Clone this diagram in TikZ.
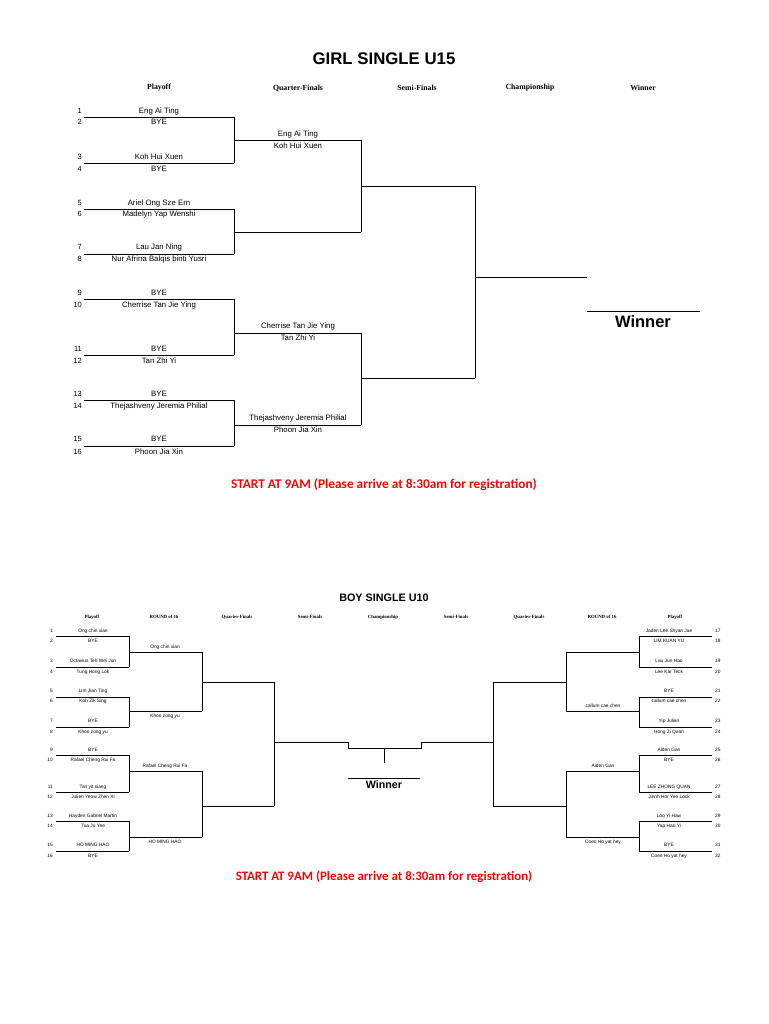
\documentclass[tikz,border=0pt]{standalone}
\usepackage{fontspec}
\setmainfont{Liberation Serif}
\setsansfont{Liberation Sans}
\newfontfamily\calib{Carlito}
\begin{document}
\begin{tikzpicture}[x=1pt,y=-1pt,
  nm/.style={font=\sffamily\fontsize{7.8}{9}\selectfont,inner sep=0pt},
  num/.style={font=\sffamily\fontsize{7.5}{9}\selectfont,inner sep=0pt,anchor=east},
  hd/.style={font=\bfseries\fontsize{7.8}{9}\selectfont,inner sep=0pt},
  snm/.style={font=\sffamily\fontsize{4.8}{6}\selectfont,inner sep=0pt},
  snum/.style={font=\sffamily\fontsize{4.8}{6}\selectfont,inner sep=0pt},
  shd/.style={font=\bfseries\fontsize{4.8}{6}\selectfont,inner sep=0pt},
  br/.style={line width=0.9pt},
  sbr/.style={line width=0.7pt},
  redA/.style={text=red,font=\calib\bfseries\fontsize{13.3}{15}\selectfont,inner sep=0pt},
  redB/.style={text=red,font=\calib\bfseries\fontsize{12.9}{15}\selectfont,inner sep=0pt}]
\useasboundingbox (0,0) rectangle (768,1024);
% ---------- GIRL SINGLE U15 ----------
\node[font=\sffamily\bfseries\fontsize{16.8}{20}\selectfont] (t1) at (384,59) {GIRL SINGLE U15};
\node[hd] (h1) at (159,88) {Playoff};
\node[hd] (h2) at (298,88) {Quarter-Finals};
\node[hd] (h3) at (417,88) {Semi-Finals};
\node[hd] (h4) at (530,88) {Championship};
\node[hd] (h5) at (643,88) {Winner};
\foreach \i/\ya/\yb/\na/\nb in {1/111/122/Eng Ai Ting/BYE,3/157/169/Koh Hui Xuen/BYE,5/203/214/Ariel Ong Sze Ern/Madelyn Yap Wenshi,7/247/259/Lau Jan Ning/Nur Afrina Balqis binti Yusri,9/293/305/BYE/Cherrise Tan Jie Ying,11/349/361/BYE/Tan Zhi Yi,13/394/406/BYE/Thejashveny Jeremia Philial,15/439/452/BYE/Phoon Jia Xin}{
  \pgfmathtruncatemacro{\j}{\i+1}
  \node[num] (ga\i) at (82,\ya) {\i};
  \node[num] (ga\j) at (82,\yb) {\j};
  \node[nm] (gn\i) at (159,\ya) {\na};
  \node[nm] (gn\j) at (159,\yb) {\nb};
}
\foreach \y [count=\k] in {117,163,209,254,299,355,400,446}{
  \coordinate (gl\k) at (84,\y);
  \draw[br] (gl\k) -- ++(150,0);
}
\draw[br] (234,117) -- (234,163) (234,209) -- (234,254) (234,299) -- (234,355) (234,400) -- (234,446);
\foreach \y [count=\k] in {140,232,333,425}{
  \coordinate (gq\k) at (234,\y);
  \draw[br] (gq\k) -- ++(127,0);
}
\node[nm] (q1a) at (298,134) {Eng Ai Ting};
\node[nm] (q1b) at (298,146) {Koh Hui Xuen};
\node[nm] (q3a) at (298,326) {Cherrise Tan Jie Ying};
\node[nm] (q3b) at (298,338) {Tan Zhi Yi};
\node[nm] (q4a) at (298,418) {Thejashveny Jeremia Philial};
\node[nm] (q4b) at (298,430) {Phoon Jia Xin};
\draw[br] (361,140) -- (361,232) (361,333) -- (361,425);
\draw[br] (361,186) -- (475,186) (361,378) -- (475,378);
\draw[br] (475,186) -- (475,378);
\draw[br] (475,277) -- (587,277);
\draw[br] (587,311) -- (700,311);
\node[font=\sffamily\bfseries\fontsize{16.5}{19}\selectfont,inner sep=0pt] (gw) at (643,322) {Winner};
\node[redA] (r1) at (384,485) {START AT 9AM (Please arrive at 8:30am for registration)};
% ---------- BOY SINGLE U10 ----------
\node[font=\sffamily\bfseries\fontsize{10.8}{13}\selectfont] (t2) at (384,598) {BOY SINGLE U10};
\foreach \x/\t [count=\k] in {92/Playoff,164/ROUND of 16,237/Quarter-Finals,310/Semi-Finals,383/Championship,456/Semi-Finals,529/Quarter-Finals,602/ROUND of 16,675/Playoff}
  \node[shd] (bh\k) at (\x,617) {\t};
% left names
\foreach \i/\y/\t in {1/631/Ong chin xian,2/641/BYE,3/661/Octavius Teh Wei Jun,4/672/Tung Hong Lok,5/691/Lim Jian Ting,6/701/Koh Zik Sing,7/721/BYE,8/732/Khoo zong yu,9/750/BYE,10/760/Rafael Cheng Rui Fa,11/787/Tan yit siang,12/797/Julien Yeow Zhen Xi,13/816/Hayden Gabriel Martin,14/826/Tua Ju Yee,15/845/HO MING HAO,16/856/BYE}{
  \node[snum,anchor=east] (bl\i) at (53,\y) {\i};
  \node[snm] (bn\i) at (93,\y) {\t};
}
% right names
\foreach \i/\y/\t in {17/631/Jaden Lee Shyan Jae,18/641/LIM KUAN YU,19/661/Lau Jun Hao,20/672/Lee Kar Teck,21/691/BYE,22/701/callum cae chen,23/721/Yip Julian,24/732/Hong Zi Quan,25/750/Aiden Gan,26/760/BYE,27/787/LEE ZHONG QUAN,28/797/Jinnh Hor Yee Lock,29/816/Loo Yi Haw,30/826/Yap Hao Yi,31/845/BYE,32/856/Coen Ho yat hey}{
  \node[snum,anchor=west] (br\i) at (715,\y) {\i};
  \node[snm] (rn\i) at (669,\y) {\t};
}
\foreach \y [count=\k] in {636,667,697,727,755,792,821,851}{
  \coordinate (bpl\k) at (56,\y);
  \coordinate (bpr\k) at (712,\y);
  \draw[sbr] (bpl\k) -- ++(73,0);
  \draw[sbr] (bpr\k) -- ++(-73,0);
}
\foreach \a/\b in {636/667,697/727,755/792,821/851}
  \draw[sbr] (129,\a) -- (129,\b) (639,\a) -- (639,\b);
\foreach \y [count=\k] in {652,711,771,837}{
  \coordinate (brl\k) at (129,\y);
  \coordinate (brr\k) at (639,\y);
  \draw[sbr] (brl\k) -- ++(73,0);
  \draw[sbr] (brr\k) -- ++(-73,0);
}
\node[snm] (r16a) at (165,647) {Ong chin xian};
\node[snm] (r16b) at (165,716) {Khoo zong yu};
\node[snm] (r16c) at (165,766) {Rafael Cheng Rui Fa};
\node[snm] (r16d) at (165,842) {HO MING HAO};
\node[snm] (r16e) at (603,706) {callum cae chen};
\node[snm] (r16f) at (603,766) {Aiden Gan};
\node[snm] (r16g) at (603,842) {Coen Ho yat hey};
\draw[sbr] (202,652) -- (202,711) (202,771) -- (202,837);
\draw[sbr] (566,652) -- (566,711) (566,771) -- (566,837);
\draw[sbr] (202,682) -- (274,682) (202,806) -- (274,806) (274,682) -- (274,806);
\draw[sbr] (566,682) -- (493,682) (566,806) -- (493,806) (493,682) -- (493,806);
\draw[sbr] (274,742) -- (348,742) -- (348,748) -- (421,748) -- (421,742) -- (493,742);
\draw[sbr] (384,748) -- (384,763);
\draw[sbr] (348,778) -- (420,778);
\node[font=\sffamily\bfseries\fontsize{10.7}{13}\selectfont,inner sep=0pt] (bw) at (384,785) {Winner};
\node[redB] (r2) at (384,877) {START AT 9AM (Please arrive at 8:30am for registration)};
\end{tikzpicture}
\end{document}
